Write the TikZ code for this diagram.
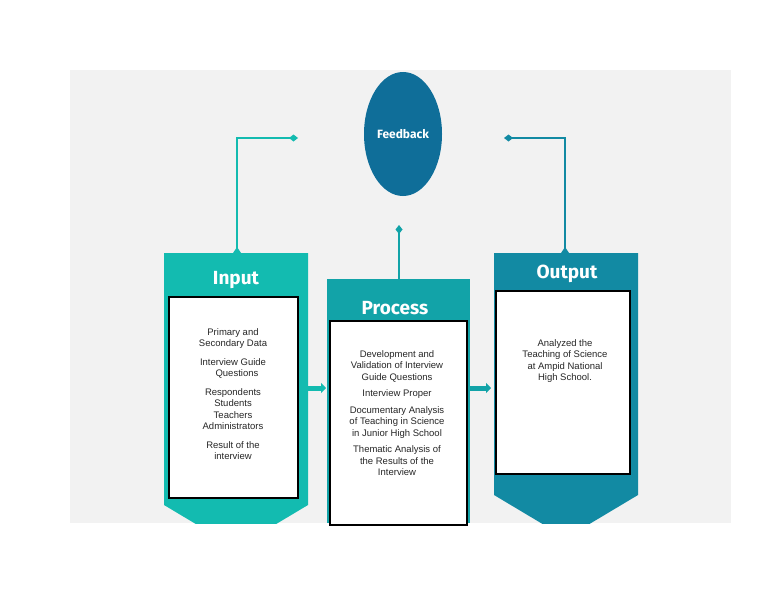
\documentclass[tikz,border=0pt]{standalone}
\usepackage{fontspec}
\setmainfont{Liberation Sans}
\newfontfamily\titlefont{Fira Sans}
\usetikzlibrary{arrows.meta,shapes.geometric}
\definecolor{cin}{HTML}{13BBB0}
\definecolor{cpr}{HTML}{12A3A8}
\definecolor{cout}{HTML}{128AA3}
\definecolor{cfb}{HTML}{0F6E99}
\definecolor{bg}{HTML}{F2F2F2}
\tikzset{
 wbox/.style={draw=black,line width=2pt,fill=white},
 body/.style={align=center,font=\fontsize{9.5}{11.5}\selectfont,text=black!85},
 ttl/.style={text=white,font=\titlefont\bfseries\fontsize{19}{20}\selectfont},
 conn/.style={line width=2.5pt},
 dia/.style={-{Diamond[length=9pt,width=7pt]}},
 fat/.style={-{Triangle[length=5pt,width=10pt]},line width=5pt}
}
\begin{document}
\begin{tikzpicture}[x=1pt,y=-1pt]
\useasboundingbox (0,0) rectangle (768,594);
\fill[bg] (70,70) rectangle (731,523);
\begin{scope}
\clip (70,70) rectangle (731,523);
\fill[cin] (164,253) -- (308,253) -- (308,505) -- (236,548) -- (164,505) -- cycle;
\fill[cout] (494,253) -- (638,253) -- (638,495) -- (566,538) -- (494,495) -- cycle;
\end{scope}
\fill[cpr] (327,279) rectangle (470,523);
\node[ttl] (tin) at (236,280) {Input};
\node[ttl] (tpr) at (395,308) {Process};
\node[ttl] (tout) at (567,274) {Output};
\draw[wbox] (169,297) rectangle (298,498);
\draw[wbox] (330,321) rectangle (467,525);
\draw[wbox] (496,291) rectangle (630,474);
\node[body,anchor=north] (bin) at (233,325) {Primary and\\Secondary Data\\[7pt]Interview Guide\\\ \ \ Questions\\[7pt]Respondents\\Students\\Teachers\\Administrators\\[7pt]Result of the\\interview};
\node[body,anchor=north] (bpr) at (397,347) {Development and\\Validation of Interview\\Guide Questions\\[5pt]Interview Proper\\[5pt]Documentary Analysis\\of Teaching in Science\\in Junior High School\\[5pt]Thematic Analysis of\\the Results of the\\Interview};
\node[body,anchor=north] (bout) at (565,336) {Analyzed the\\Teaching of Science\\at Ampid National\\High School.};
\node[ellipse,fill=cfb,minimum width=78pt,minimum height=124pt,inner sep=0pt,text=white,font=\titlefont\bfseries\fontsize{12}{13}\selectfont] (fb) at (403,134) {Feedback};
\coordinate (a1) at (237,253); \coordinate (a2) at (237,138); \coordinate (a3) at (298,138);
\coordinate (c1) at (565,253); \coordinate (c2) at (565,138); \coordinate (c3) at (504,138);
\coordinate (p1) at (399,279); \coordinate (p2) at (399,225);
\draw[conn,cin,dia] (a1) -- (a2) -- (a3);
\fill[cin] (a1) ++(-4,0) -- ++(4,-6) -- ++(4,6) -- cycle;
\draw[conn,cout,dia] (c1) -- (c2) -- (c3);
\fill[cout] (c1) ++(-4,0) -- ++(4,-6) -- ++(4,6) -- cycle;
\draw[conn,cpr,dia] (p1) -- (p2);
\coordinate (m1) at (308,388); \coordinate (m2) at (326,388);
\coordinate (n1) at (470,388); \coordinate (n2) at (491,388);
\draw[fat,cin] (m1) -- (m2);
\draw[fat,cpr] (n1) -- (n2);
\end{tikzpicture}
\end{document}
